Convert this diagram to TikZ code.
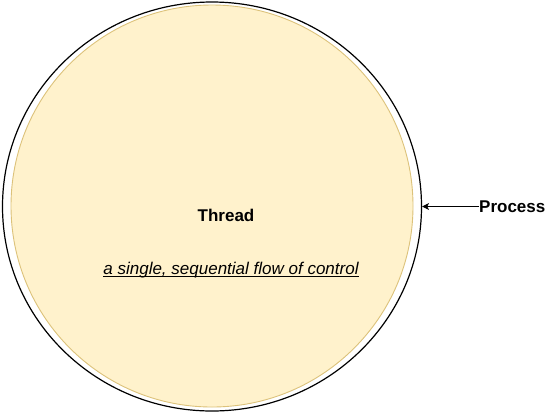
\documentclass[tikz,border=0pt]{standalone}
\usepackage{fontspec}
\setmainfont{Liberation Sans}
\usetikzlibrary{shapes.geometric,arrows.meta}
\definecolor{threadfill}{HTML}{FFF2CC}
\definecolor{threadline}{HTML}{DCC27A}
\newlength\ulwd
\newcommand\undertext[1]{\settowidth{\ulwd}{#1}\rlap{\rule[-2.2pt]{\ulwd}{0.8pt}}#1}
\begin{document}
\begin{tikzpicture}[x=1pt, y=-1pt,
    process/.style={ellipse, draw=black, line width=1.2pt, fill=white, inner sep=0pt,
        minimum width=419pt, minimum height=409pt},
    thread/.style={circle, draw=threadline, line width=0.9pt, fill=threadfill, inner sep=0pt,
        minimum size=402pt},
    label/.style={inner sep=0pt, font=\fontsize{17}{20}\selectfont}]
    \useasboundingbox (0,0) rectangle (548,413);
% Circles
    \node[process] (proc) at (212,206.5) {};
    \node[thread] (thr) at (212,206) {};
% Texts
    \node[label, font=\fontsize{17}{20}\selectfont\bfseries] (name) at (226,215) {Thread};
    \node[label, font=\fontsize{17}{20}\selectfont\itshape] (desc) at (231,270) {\undertext{a single, sequential flow of control}};
    \node[label, font=\fontsize{17}{20}\selectfont\bfseries, anchor=west] (plabel) at (479,206.5) {Process};
% Arrow
    \draw[-{Stealth[length=7pt, width=7pt, inset=2pt]}, line width=0.8pt] (plabel.west) -- (proc.east);
\end{tikzpicture}
\end{document}
